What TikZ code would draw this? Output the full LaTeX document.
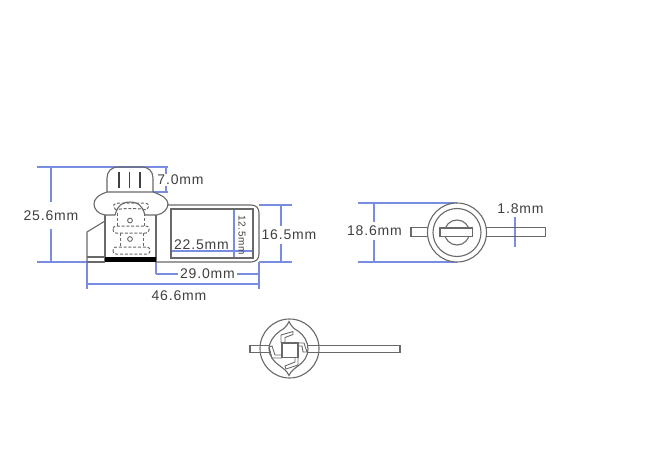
\documentclass[tikz,border=0pt]{standalone}
\usepackage{fontspec}
\setmainfont[LetterSpace=6]{Liberation Sans}
\usetikzlibrary{positioning}
\definecolor{dimblue}{RGB}{120,140,225}
\definecolor{partgray}{RGB}{105,105,105}
\tikzstyle{part} = [draw=partgray,line width=1.1pt]
\tikzstyle{thinpart} = [draw=partgray,line width=0.9pt]
\tikzstyle{hidden} = [draw=partgray,line width=1pt,dash pattern=on 3pt off 1.8pt]
\tikzstyle{dimline} = [draw=dimblue,line width=1.1pt]
\tikzstyle{dimtext} = [font=\fontsize{14}{14}\selectfont,text=black!75,inner sep=0pt]

\begin{document}
\begin{tikzpicture}[x=1pt,y=-1pt]

    \useasboundingbox[fill=white] (0,0) rectangle (650,465);

    % dimension lines, side view
    \foreach \xa/\ya/\xb/\yb in {37/167/168/167, 37/262/87/262, 51/167/51/202, 51/229/51/262,
        87/262/87/289, 87/284/259/284, 156/262/156/274, 156/274/178/274, 237/274/259/274,
        259/262/259/289, 153/192/168/192, 259/205/292/205, 259/262/292/262, 281/205/281/226, 281/244/281/262,
        166/167/166/174, 166/186/166/192, 234/209/234/258, 171/251/253/251}
            \path[dimline] (\xa,\ya) -- (\xb,\yb);

    % side view
    \path[part] (107,192) -- (107,178) .. controls (107,171) and (112,167) .. (118,167)
        -- (142,167) .. controls (148,167) and (153,171) .. (153,178) -- (153,192);
    \foreach \x in {119,129.5,140}
            \path[draw=black!75,line width=1.4pt] (\x,172) -- (\x,188);
    \path[part] (105,215) .. controls (98,214) and (94,209) .. (94,204)
        .. controls (94,199) and (98,195) .. (107,192) -- (153,192)
        .. controls (162,195) and (168,199) .. (168,204)
        .. controls (168,209) and (163,214) .. (157,215)
        -- (145,215) .. controls (142,204) and (136,202) .. (130,202)
        .. controls (124,202) and (118,204) .. (115,215) -- cycle;
    \path[part] (105,215) -- (105,262) (156,215) -- (156,262);
    \path[part] (87,262) -- (87,232) -- (105,221);
    \path[part] (87,257) -- (105,257) (87,262) -- (105,262);
    \fill[black] (105,257) rectangle (156,262);
    \path[part] (156,262) -- (251,262) .. controls (256,262) and (259,259) .. (259,254)
        -- (259,213) .. controls (259,208) and (256,205) .. (251,205) -- (167,205);
    \path[part] (171,209) rectangle (253,258);

    % hidden parts
    \path[hidden] (116,210) .. controls (111,205) and (114,203) .. (120,203) -- (142,203)
        .. controls (149,203) and (151,205) .. (146,210) .. controls (142,208) and (120,208) .. (116,210);
    \path[hidden] (117,213) -- (117,226) (144,213) -- (144,226);
    \path[hidden,rounded corners=3pt] (113,226) rectangle (149,233);
    \path[hidden] (120,233) -- (120,247) (143,233) -- (143,247);
    \path[hidden,rounded corners=3pt] (113,247) rectangle (150,254);
    \path[thinpart] (130,220.5) circle (2.4);
    \path[thinpart] (130,239) circle (2.4);

    % end view
    \path[dimline] (358,203) -- (457,203) (358,262) -- (457,262);
    \path[dimline] (374,203) -- (374,222) (374,240) -- (374,262);
    \path[dimline] (515,217) -- (515,247);
    \path[part] (411,227.5) rectangle (428,236.5);
    \path[part] (486,227.5) rectangle (545.5,236.5);
    \path[part,fill=white] (457,232.5) circle (29.5);
    \path[part] (457,232.5) circle (24);
    \path[part] (457,232.5) circle (12.5);
    \path[part,fill=white] (440,228) rectangle (472.5,236.5);

    % rear view
    \path[part] (250,345.5) rectangle (400,352.5);
    \path[part] (289.5,348.5) circle (29.5);
    \path[part,fill=white] (289,321.5) .. controls (291,326) and (294,329) .. (298,331)
        .. controls (304,335) and (308,342) .. (308,349) .. controls (308,356) and (304,362) .. (298,366)
        .. controls (294,369) and (291,371) .. (289,375.5) .. controls (287,371) and (284,369) .. (280,366)
        .. controls (274,362) and (269,356) .. (269,349) .. controls (269,342) and (274,335) .. (280,331)
        .. controls (284,329) and (287,326) .. (289,321.5) -- cycle;
    \path[part] (282,343) rectangle (298,357.5);
    \path[thinpart] (281,343) -- (281,335) -- (293,331.5) -- (293,334.5) -- (285,337.5) -- (285,343);
    \path[thinpart] (298,357.5) -- (298,365) -- (286,369) -- (285,366) -- (295,362) -- (295,357.5);
    \path[thinpart] (298,343) -- (304,343) -- (307,352) -- (303,352) -- (302,346) -- (298,346);
    \path[thinpart] (282,358) -- (272,358) -- (269,347) -- (272,346) -- (275,355) -- (282,355);

    % labels
    \node[dimtext] (height) at (51,216) {25.6mm};
    \node[dimtext] (cap) at (180.5,180) {7.0mm};
    \node[dimtext] (tab) at (289,235) {16.5mm};
    \node[dimtext] (inner) at (201.5,245) {22.5mm};
    \node[dimtext,font=\fontsize{10}{10}\selectfont,rotate=-90] (innerh) at (242,235) {12.5mm};
    \node[dimtext] (body) at (207.5,274) {29.0mm};
    \node[dimtext] (total) at (179,296) {46.6mm};
    \node[dimtext] (dia) at (374.5,231) {18.6mm};
    \node[dimtext] (thick) at (520.5,209) {1.8mm};

\end{tikzpicture}
\end{document}
